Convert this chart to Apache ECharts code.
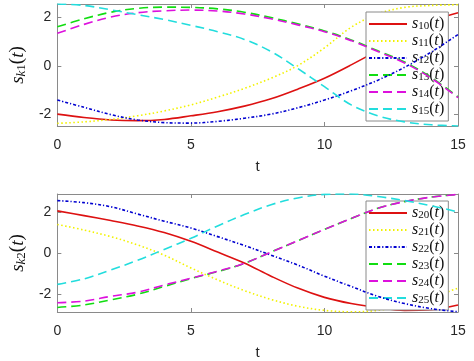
<!DOCTYPE html>
<html><head><meta charset="utf-8">
<script src="https://cdn.jsdelivr.net/npm/echarts@6/dist/echarts.min.js"></script>
<style>html,body{margin:0;padding:0;background:#fff}#c{width:474px;height:361px}</style>
</head><body><div id="c"></div>
<script>
const t = [0,1,2,3,4,5,6,7,8,9,10,11,12,13,14,15];
const xTicks = [0,5,10,15];
const yTicks = [-2,0,2];
const topRange = [-2.47, 2.56];
const botRange = [-2.86, 2.87];

const namesTop = ['s10','s11','s12','s13','s14','s15'];
const namesBot = ['s20','s21','s22','s23','s24','s25'];

const s10 = [-1.98,-2.12,-2.22,-2.25,-2.2,-2.05,-1.88,-1.65,-1.35,-0.95,-0.5,0.05,0.65,1.3,1.85,2.2];
const s11 = [-2.36,-2.3,-2.2,-2.05,-1.85,-1.6,-1.28,-0.92,-0.5,0.02,0.75,1.6,2.15,2.42,2.5,2.53];
const s12 = [-1.4,-1.7,-2.0,-2.22,-2.33,-2.35,-2.28,-2.15,-1.98,-1.72,-1.4,-1.02,-0.58,-0.05,0.58,1.3];
const s13 = [1.62,1.95,2.22,2.38,2.43,2.42,2.36,2.22,2.0,1.74,1.45,1.08,0.63,0.17,-0.47,-1.27];
const s14 = [1.35,1.72,2.02,2.2,2.28,2.31,2.27,2.15,1.95,1.7,1.42,1.05,0.6,0.13,-0.5,-1.3];
const s15 = [2.56,2.5,2.32,2.12,1.92,1.68,1.42,1.1,0.6,-0.1,-0.85,-1.6,-2.05,-2.3,-2.42,-2.47];

const s20 = [2.05,1.82,1.58,1.32,1.0,0.57,0.05,-0.48,-1.12,-1.7,-2.15,-2.45,-2.65,-2.78,-2.75,-2.52];
const s21 = [1.39,1.12,0.8,0.4,-0.1,-0.72,-1.3,-1.82,-2.25,-2.58,-2.78,-2.85,-2.78,-2.5,-2.15,-1.7];
const s22 = [2.55,2.45,2.25,1.9,1.55,1.22,0.8,0.37,-0.1,-0.58,-1.12,-1.62,-2.1,-2.45,-2.7,-2.85];
const s23 = [-2.64,-2.52,-2.27,-2.0,-1.62,-1.24,-0.9,-0.5,0.05,0.6,1.15,1.68,2.18,2.5,2.72,2.85];
const s24 = [-2.41,-2.33,-2.1,-1.9,-1.55,-1.22,-0.88,-0.5,0.05,0.6,1.15,1.68,2.18,2.5,2.72,2.85];
const s25 = [-1.52,-1.25,-0.82,-0.35,0.18,0.72,1.32,1.87,2.35,2.68,2.85,2.87,2.75,2.55,2.3,2.0];

const topData = [s10,s11,s12,s13,s14,s15];
const botData = [s20,s21,s22,s23,s24,s25];

const colors = ['#dd1111','#f2f200','#0000d0','#11dd11','#dd11dd','#22dddd'];
const dashes = ['solid',[1.5,2.5],[3,2,1.2,2],[9,5],[9,5],[9,5]];
const widths = [1.6,1.6,1.6,1.6,1.6,1.6];

const axisColor = '#8a8a8a';
const labelFont = {fontFamily:'Liberation Sans', fontSize:14, color:'#262626'};

const rich = {
  i:{fontFamily:'Liberation Serif', fontStyle:'italic', fontSize:16, lineHeight:14, color:'#111'},
  n:{fontFamily:'Liberation Serif', fontSize:16, lineHeight:14, color:'#111'},
  sub:{fontFamily:'Liberation Serif', fontSize:11, lineHeight:9, color:'#111', padding:[5,0,0,0]}
};
const legendFmt = n => `{i|s}{sub|${n.slice(1)}}{n|(}{i|t}{n|)}`;

function xAx(grid, pos, showLabel, name){
  return {type:'value', gridIndex:grid, position:pos, min:0, max:15, interval:5,
    axisLine:{show:true, onZero:false, lineStyle:{color:axisColor, width:1}},
    axisTick:{show:true, inside:true, length:4, lineStyle:{color:axisColor}},
    axisLabel:{show:showLabel, margin:12, ...labelFont},
    splitLine:{show:false},
    name: name || '', nameLocation:'middle', nameGap:33,
    nameTextStyle:{fontFamily:'Liberation Sans', fontSize:15, color:'#262626'}};
}
function yAx(grid, pos, range, showLabel, name){
  return {type:'value', gridIndex:grid, position:pos, min:range[0], max:range[1],
    axisLine:{show:true, onZero:false, lineStyle:{color:axisColor, width:1}},
    axisTick:{show:true, inside:true, length:4, customValues:yTicks, lineStyle:{color:axisColor}},
    axisLabel:{show:showLabel, margin:6, customValues:yTicks, ...labelFont},
    splitLine:{show:false},
    name: name || '', nameLocation:'middle', nameGap:26, nameRotate:90,
    nameTextStyle:{rich: {
      i:{fontFamily:'Liberation Serif', fontStyle:'italic', fontSize:19, color:'#111'},
      n:{fontFamily:'Liberation Serif', fontSize:19, color:'#111'},
      subi:{fontFamily:'Liberation Serif', fontStyle:'italic', fontSize:13, color:'#111', padding:[8,0,0,0]},
      sub:{fontFamily:'Liberation Serif', fontSize:13, color:'#111', padding:[8,0,0,0]}
    }}};
}

const series = [];
[[namesTop, topData, 0],[namesBot, botData, 1]].forEach(([names, data, g])=>{
  names.forEach((nm,k)=>{
    series.push({type:'line', name:nm, xAxisIndex:g*2, yAxisIndex:g*2,
      data: t.map((x,i)=>[x, data[k][i]]), smooth:0.35, symbol:'none',
      lineStyle:{color:colors[k], width:widths[k], type:dashes[k]},
      itemStyle:{color:colors[k]}, z:2+k});
  });
});

function legend(names, top){
  return {orient:'vertical', left:366, top:top, data:names, formatter:legendFmt,
    itemWidth:38, itemHeight:14, itemGap:1, padding:[4,4,4,2],
    itemStyle:{opacity:0},
    backgroundColor:'#fff', borderColor:axisColor, borderWidth:1,
    textStyle:{rich:rich}};
}

const chart = echarts.init(document.getElementById('c'), null, {renderer:'canvas'});
chart.setOption({
  animation:false,
  backgroundColor:'#fff',
  grid:[{left:45, right:16, top:4, height:122},{left:45, right:16, top:194, height:122}],
  xAxis:[xAx(0,'bottom',true,'t'), xAx(0,'top',false), xAx(1,'bottom',true,'t'), xAx(1,'top',false)],
  yAxis:[yAx(0,'left',topRange,true,'{i|s}{subi|k}{sub|1}{n|(}{i|t}{n|)}'), yAx(0,'right',topRange,false),
         yAx(1,'left',botRange,true,'{i|s}{subi|k}{sub|2}{n|(}{i|t}{n|)}'), yAx(1,'right',botRange,false)],
  legend:[legend(namesTop, 12), legend(namesBot, 201)],
  series: series
});
</script></body></html>
